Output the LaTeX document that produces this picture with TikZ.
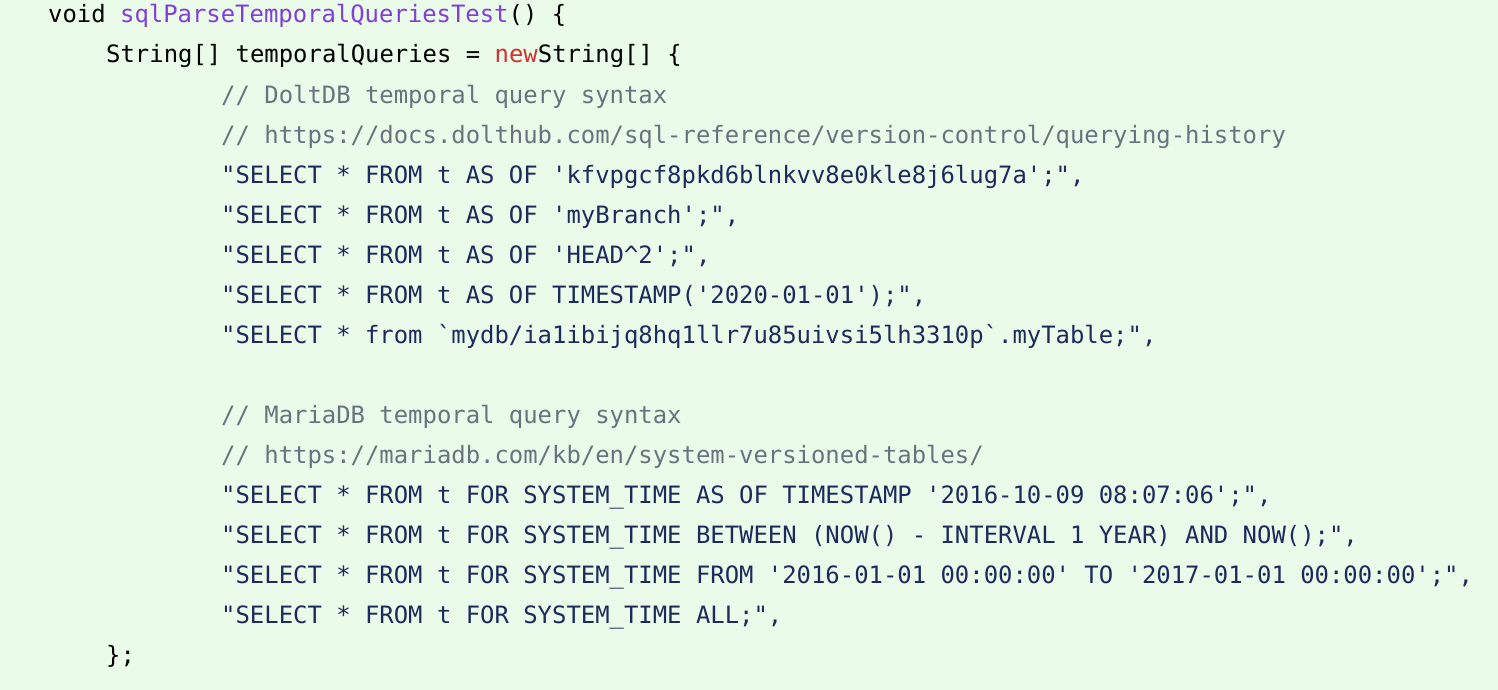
\documentclass[tikz,border=0pt]{standalone}
\usepackage{fontspec}
\setmonofont{DejaVu Sans Mono}
\definecolor{bg}{HTML}{EAFBEA}
\definecolor{code}{HTML}{1C2A5C}
\definecolor{cmt}{HTML}{6A737D}
\definecolor{fn}{HTML}{7F3FD8}
\definecolor{kw}{HTML}{D0312D}
\tikzset{codetext/.style={anchor=base west,inner sep=0pt,font=\ttfamily\fontsize{23.9}{28}\selectfont,text=code}}
\newcommand\codeline[4]{\node[codetext] (#1) at (#2,{-(23+40*#3)}) {#4};}
\begin{document}
\begin{tikzpicture}[x=1pt,y=1pt]
\fill[bg] (0,0) rectangle (1498,-690);
\useasboundingbox (0,0) rectangle (1498,-690);
\codeline{l0}{48}{0}{\textcolor{black}{void} \textcolor{fn}{sqlParseTemporalQueriesTest}\textcolor{black}{() \{}}
\codeline{l1}{106}{1}{\textcolor{black}{String[] temporalQueries = }\textcolor{kw}{new}\textcolor{black}{ String[] \{}}
\codeline{l2}{221}{2}{\textcolor{cmt}{// DoltDB temporal query syntax}}
\codeline{l3}{221}{3}{\textcolor{cmt}{// https://docs.dolthub.com/sql-reference/version-control/querying-history}}
\codeline{l4}{221}{4}{"SELECT * FROM t AS OF 'kfvpgcf8pkd6blnkvv8e0kle8j6lug7a';",}
\codeline{l5}{221}{5}{"SELECT * FROM t AS OF 'myBranch';",}
\codeline{l6}{221}{6}{"SELECT * FROM t AS OF 'HEAD\symbol{94}2';",}
\codeline{l7}{221}{7}{"SELECT * FROM t AS OF TIMESTAMP('2020-01-01');",}
\codeline{l8}{221}{8}{"SELECT * from \symbol{96}mydb/ia1ibijq8hq1llr7u85uivsi5lh3310p\symbol{96}.myTable;",}
\codeline{l10}{221}{10}{\textcolor{cmt}{// MariaDB temporal query syntax}}
\codeline{l11}{221}{11}{\textcolor{cmt}{// https://mariadb.com/kb/en/system-versioned-tables/}}
\codeline{l12}{221}{12}{"SELECT * FROM t FOR SYSTEM\_TIME AS OF TIMESTAMP '2016-10-09 08:07:06';",}
\codeline{l13}{221}{13}{"SELECT * FROM t FOR SYSTEM\_TIME BETWEEN (NOW() - INTERVAL 1 YEAR) AND NOW();",}
\codeline{l14}{221}{14}{"SELECT * FROM t FOR SYSTEM\_TIME FROM '2016-01-01 00:00:00' TO '2017-01-01 00:00:00';",}
\codeline{l15}{221}{15}{"SELECT * FROM t FOR SYSTEM\_TIME ALL;",}
\codeline{l16}{106}{16}{\textcolor{black}{\};}}
\end{tikzpicture}
\end{document}
